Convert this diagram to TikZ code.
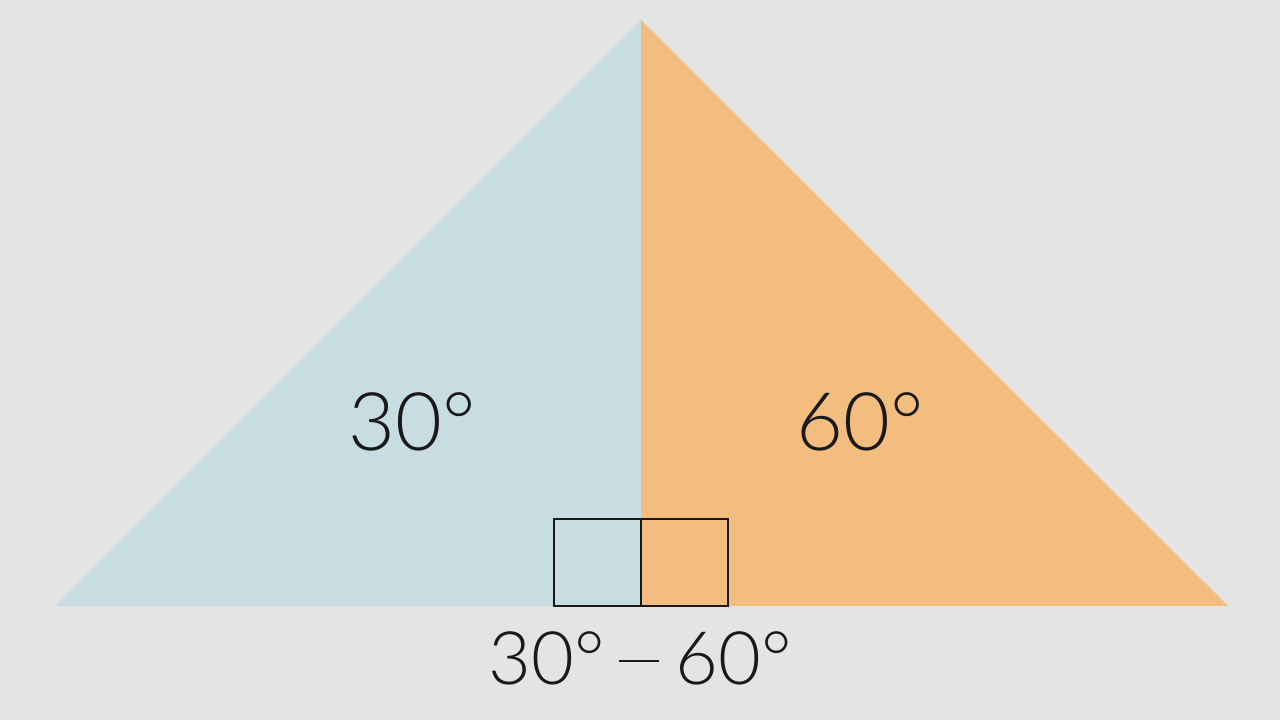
\documentclass[tikz,border=0pt]{standalone}
\usepackage{fontspec}
\setmainfont{Lato}[UprightFont=* Light]
\usepackage{xcolor}
\definecolor{bgGrey}{HTML}{E4E4E4}
\definecolor{triBlue}{HTML}{C8DDE2}
\definecolor{triOrange}{HTML}{F4BD80}
\tikzset{angle label/.style={font=\fontsize{23}{26}\selectfont,text=black!90},
 pair label/.style={angle label,font=\fontsize{21}{24}\selectfont},
 right box/.style={draw=black!90,line width=0.8pt},
 }

\begin{document}
\begin{tikzpicture}
        \fill[bgGrey] (0,0) rectangle (12.8,7.2);
        \useasboundingbox (0,0) rectangle (12.8,7.2);
        \coordinate (apex) at (6.41,7.00);
        \coordinate (foot) at (6.41,1.14);
        \coordinate (left) at (0.55,1.14);
        \coordinate (right) at (12.28,1.14);
        \fill[triBlue] (left) -- (apex) -- (foot) -- cycle;
        \fill[triOrange] (foot) -- (apex) -- (right) -- cycle;
        \draw[right box] (5.54,1.14) rectangle (foot |- 0,2.01);
        \draw[right box] (foot) rectangle (7.28,2.01);
        \node[angle label] (small) at (4.12,2.98) {30°};
        \node[angle label] (large) at (8.60,2.98) {60°};
        \node[pair label] (pair) at (6.40,0.62)
            {30°\hspace{0.2em}\rule[0.3em]{0.54em}{0.6pt}\hspace{0.22em}60°};
    \end{tikzpicture}
\end{document}
